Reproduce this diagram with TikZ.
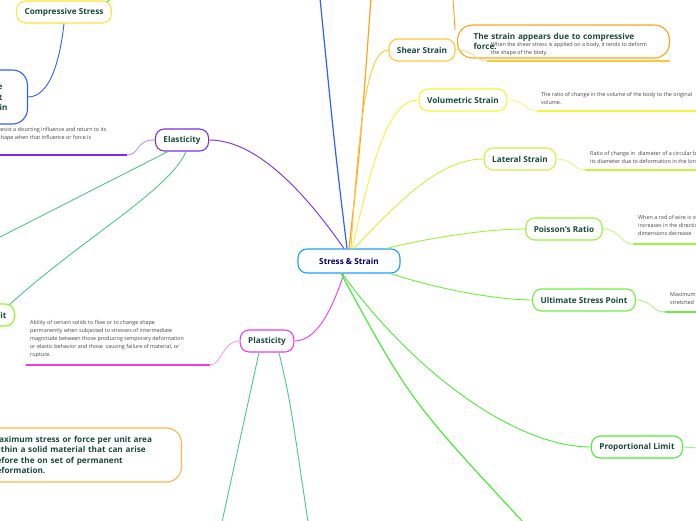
\documentclass[tikz,border=0pt]{standalone}
\usepackage{fontspec}
\setmainfont{Open Sans}
\begin{document}
\begin{tikzpicture}[x=1pt,y=-1pt,
  tb/.style={draw,line width=1.1pt,rounded corners=9pt,fill=white,font=\fontsize{8.2}{9}\selectfont\bfseries,text=txt,inner xsep=8pt,minimum height=22pt},
  big/.style={draw,line width=1.1pt,rounded corners=15pt,fill=white,font=\fontsize{8.2}{10.5}\selectfont\bfseries,text=txt,align=left},
  desc/.style={font=\fontsize{5.4}{8}\selectfont,text=dtxt,align=left,anchor=north west,inner sep=0pt},
  con/.style={line width=0.9pt}]
\definecolor{txt}{HTML}{1B4A3C}
\definecolor{dtxt}{HTML}{444444}
\definecolor{cyel}{HTML}{FFE23A}
\definecolor{cblue}{HTML}{2F62F5}
\definecolor{cpur}{HTML}{7A2CF0}
\definecolor{cmag}{HTML}{EE3CE8}
\definecolor{cora}{HTML}{FFA31A}
\definecolor{cshear}{HTML}{FFC83A}
\definecolor{cvol}{HTML}{F3F53A}
\definecolor{clat}{HTML}{C8F53A}
\definecolor{cpoi}{HTML}{9AF53A}
\definecolor{cult}{HTML}{6CF03A}
\definecolor{cprop}{HTML}{4CEC3A}
\definecolor{cteal}{HTML}{4CC98A}
\useasboundingbox[fill=white] (0,0) rectangle (696,520);
\coordinate (tB) at (320,-2); \coordinate (tO) at (371,-2); \coordinate (tO2) at (453,-2);
\coordinate (tG) at (112,-2);
\coordinate (bG) at (523,522); \coordinate (bP1) at (222,522); \coordinate (bP2) at (308,522);
\coordinate (lE1) at (-2,238); \coordinate (lE2) at (8,306);
\node[tb,draw=cblue!60!cyan,text=blue!40!black,minimum height=24pt,minimum width=102pt] (root) at (349,261) {Stress \& Strain};
\draw[cblue,con,line width=1.2pt] (root.north) ++(-2,0) .. controls (335,150) .. (tB);
\draw[cora,con,line width=1.2pt] (root.north) .. controls (360,150) .. (tO);
\draw[cora,con] (tO2) -- (455,30);
\draw[cteal!50!green,con] (tG) -- (104,4);

\node[tb,draw=cyel] (comp) at (64,12) {Compressive Stress};
\node[big,draw=cblue,minimum height=54pt,align=right,anchor=east,inner xsep=0pt] (bl) at (28,97) {Stress-Strain Curve\makebox[25pt]{}\\Point of Strain Limit\makebox[25pt]{}\\Stress Strain\makebox[20pt]{}};
\draw[cblue,con] (comp.south) .. controls (60,60) and (50,97) .. (bl.east);

\node[tb,draw=cpur] (ela) at (182,140) {Elasticity};
\draw[cpur,con] (root.north) ++(-5,0) .. controls (310,200) and (260,140) .. (ela.east);
\node[desc] (elat) at (-2,127) {resist a disorting influence and return to its\\ shape when that influence or force is};
\draw[cpur,line width=1.4pt] (0,155) -- (127,155);
\draw[cpur!50,con] (127,155) .. controls (140,155) and (135,140) .. (ela.west);
\draw[cteal,con] (ela.south) ++(-14,0) -- (lE1);
\draw[cteal,con] (ela.south) ++(4,0) .. controls (170,190) and (80,240) .. (lE2);
\node[tb,draw=clat!70!green,anchor=east] (gt) at (15,315) {Stress Limit};

\node[tb,draw=cmag] (pla) at (267,341) {Plasticity};
\draw[cmag,con] (root.south) ++(-5,0) .. controls (335,300) and (320,341) .. (pla.east);
\node[desc] (plat) at (30,320) {Ability of certain solids to flow or to change shape\\permanently when subjected to stresses of intermediate\\magnitude between those producing temporary deformation\\or elastic behavior and those\ \ causing failure of material, or\\rupture.};
\draw[cmag,line width=1.4pt] (26,365) -- (210,365);
\draw[cmag!50,con] (210,365) .. controls (222,365) and (222,341) .. (pla.west);
\draw[cteal,con] (pla.south) ++(-8,0) -- (bP1);
\draw[cteal,con] (pla.south) ++(12,0) .. controls (290,400) .. (bP2);

\node[big,draw=cora!80,anchor=east,minimum height=54pt,inner xsep=12pt,text width=178pt] (ora) at (182,455) {Maximum stress or force per unit area\\within a solid material that can arise\\before the on set of permanent\\deformation.};

\node[tb,draw=cshear] (sh) at (422,50) {Shear Strain};
\draw[cshear,con] (root.north) ++(2,0) .. controls (360,100) and (370,50) .. (sh.west);
\node[big,draw=cora,minimum width=212pt,minimum height=33pt,anchor=west,text width=180pt] (orb) at (457,41.5) {The strain appears due to compressive\\force.};
\node[desc] (sht) at (491,42) {When the shear stress is applied on a body, it tends to deform\\the shape of the body.};
\draw[cshear,line width=1.4pt] (487,61) -- (670,61);
\draw[cshear!60,con] (sh.east) .. controls (475,50) and (475,61) .. (487,61);

\node[tb,draw=cvol] (vol) at (463,100) {Volumetric Strain};
\draw[cvol,con] (root.north) ++(3,0) .. controls (375,150) and (390,100) .. (vol.west);
\node[desc] (volt) at (541,92) {The ratio of change in the volume of the body to the original\\volume.};
\draw[cvol,line width=1.4pt] (537,111) -- (700,111);
\draw[cvol!60,con] (vol.east) .. controls (525,100) and (525,111) .. (537,111);

\node[tb,draw=clat] (lat) at (520,159) {Lateral Strain};
\draw[clat,con] (root.north) ++(5,0) .. controls (400,200) and (440,159) .. (lat.west);
\node[desc] (latt) at (590,151) {Ratio of change in\ \ diameter of a circular bar to\\its diameter due to deformation in the longitudinal};
\draw[clat,line width=1.4pt] (585,170) -- (700,170);
\draw[clat!60,con] (lat.east) .. controls (573,159) and (573,170) .. (585,170);

\node[tb,draw=cpoi] (poi) at (564,229) {Poisson's Ratio};
\draw[cpoi,con] (root.north east) ++(-14,0) .. controls (420,240) and (480,229) .. (poi.west);
\node[desc] (poit) at (638,215) {When a rod of wire is stretched, its length\\increases in the direction of force, its lateral\\dimensions decrease};
\draw[cpoi,line width=1.4pt] (633,244) -- (700,244);
\draw[cpoi!60,con] (poi.east) .. controls (620,229) and (620,244) .. (633,244);

\node[tb,draw=cult] (ult) at (584,300) {Ultimate Stress Point};
\draw[cult,con] (root.south east) ++(-10,0) .. controls (440,290) and (500,300) .. (ult.west);
\node[desc] (ultt) at (670,292) {Maximum stress\\stretched};
\draw[cult,line width=1.4pt] (665,312) -- (700,312);
\draw[cult!60,con] (ult.east) .. controls (652,300) and (652,312) .. (665,312);

\node[tb,draw=cprop] (pro) at (637,447) {Proportional Limit};
\draw[cprop,con] (root.south) ++(-7,0) .. controls (420,380) and (520,447) .. (pro.west);
\draw[cprop!60,con] (pro.east) -- (698,448);
\draw[cprop,line width=1.2pt] (root.south) ++(-8,0) .. controls (410,400) .. (bG);
\end{tikzpicture}
\end{document}
